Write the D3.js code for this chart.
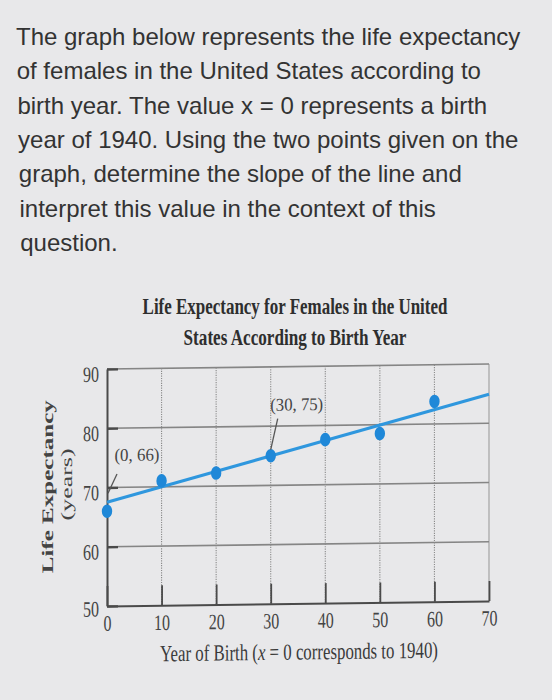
<!DOCTYPE html>
<html><head><meta charset="utf-8">
<script src="https://cdn.jsdelivr.net/npm/d3@7"></script>
<style>html,body{margin:0;padding:0;background:#e8e8ea;}svg{display:block}</style>
</head><body>
<script>
// ---- data ----
const questionLines = [
  "The graph below represents the life expectancy",
  "of females in the United States according to",
  "birth year. The value x = 0 represents a birth",
  "year of 1940. Using the two points given on the",
  "graph, determine the slope of the line and",
  "interpret this value in the context of this",
  "question."
];
const titleLines = ["Life Expectancy for Females in the United", "States According to Birth Year"];
const yearX = [0, 10, 20, 30, 40, 50, 60];
const lifeY = [66, 71, 72.2, 75, 77.6, 78.5, 83.8];
const fitX = [0, 70];
const fitY = [67.5, 84.9];
const xTicks = [0, 10, 20, 30, 40, 50, 60, 70];
const yTicks = [50, 60, 70, 80, 90];
const labelPoints = ["(0, 66)", "(30, 75)"];
const labelX = [0, 30];
const labelY = [66, 75];
const yTitle = "Life Expectancy";
const yUnit = "(years)";

// ---- layout ----
const W = 552, H = 700;
const svg = d3.select("body").append("svg").attr("width", W).attr("height", H);
svg.append("rect").attr("width", W).attr("height", H).attr("fill", "#e8e8ea");

const x = d3.scaleLinear().domain([0, 70]).range([107, 489]);
const y = d3.scaleLinear().domain([50, 90]).range([606, 369]);
const fontSerif = "Liberation Serif, Times New Roman, serif";

// squeeze a text horizontally to a target width around (cx, by)
function fitTo(sel, cx, by, w) {
  sel.attr("transform", `translate(${cx},${by})`);
  const n = sel.node().getComputedTextLength();
  sel.attr("transform", `translate(${cx},${by}) scale(${w / n},1)`);
}

// question text
svg.append("g").selectAll("text").data(questionLines).join("text")
  .attr("x", (d, i) => 16 + i * 0.7)
  .attr("y", (d, i) => 45 + i * 34.3)
  .attr("font-family", "Liberation Sans, Arial, sans-serif")
  .attr("font-size", 24)
  .attr("fill", "#333")
  .text(d => d);

// chart title
const titleW = [305, 223];
svg.append("g").selectAll("text").data(titleLines).join("text")
  .attr("text-anchor", "middle")
  .attr("font-family", fontSerif)
  .attr("font-weight", "bold")
  .attr("font-size", 23.5)
  .attr("fill", "#2e2e2e")
  .text(d => d)
  .each(function (d, i) { fitTo(d3.select(this), 295, 314 + i * 31, titleW[i]); });

// skewed chart group (photo perspective)
const g = svg.append("g")
  .attr("transform", `translate(${x(0)},0) skewY(-0.75) translate(${-x(0)},0)`);

// horizontal gridlines
g.append("g").selectAll("line").data(yTicks.filter(v => v > 50)).join("line")
  .attr("x1", x(0)).attr("x2", x(70))
  .attr("y1", d => y(d)).attr("y2", d => y(d))
  .attr("stroke", "#858585").attr("stroke-width", 1.7);

// vertical dotted gridlines
g.append("g").selectAll("line").data(xTicks.filter(v => v > 0)).join("line")
  .attr("x1", d => x(d)).attr("x2", d => x(d))
  .attr("y1", y(90)).attr("y2", y(50))
  .attr("stroke", "#8a8a8a").attr("stroke-width", 1.1)
  .attr("stroke-dasharray", d => d === 70 ? null : "1.2,1.2")
  .attr("stroke-opacity", d => d === 70 ? 0.8 : 1);

// y axis
const yAxis = g.append("g").attr("transform", `translate(${x(0)},0)`)
  .call(d3.axisLeft(y).tickValues(yTicks).tickSize(-11).tickSizeOuter(0).tickPadding(8));
yAxis.select(".domain").attr("stroke", "#4a4a4a").attr("stroke-width", 2);
yAxis.selectAll(".tick line").attr("stroke", "#4a4a4a").attr("stroke-width", 2.4);
yAxis.selectAll(".tick text")
  .attr("font-family", fontSerif).attr("font-size", 22).attr("fill", "#444")
  .attr("dy", d => d === 50 ? "0.45em" : "0.55em")
  .attr("textLength", d => String(d).length * 8)
  .attr("lengthAdjust", "spacingAndGlyphs");

// x axis
const xAxis = g.append("g").attr("transform", `translate(0,${y(50)})`)
  .call(d3.axisBottom(x).tickValues(xTicks).tickSize(-20).tickSizeOuter(0).tickPadding(9));
xAxis.select(".domain").attr("stroke", "#4a4a4a").attr("stroke-width", 2);
xAxis.selectAll(".tick line").attr("stroke", "#4a4a4a").attr("stroke-width", 1.8);
xAxis.selectAll(".tick text")
  .attr("font-family", fontSerif).attr("font-size", 22).attr("fill", "#444")
  .attr("textLength", d => String(d).length * 8)
  .attr("lengthAdjust", "spacingAndGlyphs");

// fit line
const line = d3.line().x(d => x(d[0])).y(d => y(d[1]));
g.append("path").datum(d3.zip(fitX, fitY))
  .attr("d", line).attr("fill", "none")
  .attr("stroke", "#2f97de").attr("stroke-width", 3.2);

// points
g.append("g").selectAll("ellipse").data(d3.zip(yearX, lifeY)).join("ellipse")
  .attr("cx", d => x(d[0])).attr("cy", d => y(d[1]))
  .attr("rx", 5.2).attr("ry", 6.8)
  .attr("fill", "#1f88d8");

// annotations
const ann = g.append("g");
const annOffsets = [{tx: 30, ty: -50, l1: [10, -37], l2: [1, -18]}, {tx: 26, ty: -45, l1: [7, -37], l2: [0, -6]}];
labelPoints.forEach((lab, i) => {
  const px = x(labelX[i]), py = y(labelY[i]), o = annOffsets[i];
  ann.append("text")
    .attr("x", px + o.tx).attr("y", py + o.ty)
    .attr("text-anchor", "middle")
    .attr("font-family", fontSerif).attr("font-size", 18).attr("fill", "#444")
    .attr("textLength", i === 0 ? 45 : 53).attr("lengthAdjust", "spacingAndGlyphs")
    .text(lab);
  ann.append("line")
    .attr("x1", px + o.l1[0]).attr("y1", py + o.l1[1])
    .attr("x2", px + o.l2[0]).attr("y2", py + o.l2[1])
    .attr("stroke", "#555").attr("stroke-width", 1.3);
});

// x axis title
const xt = g.append("text")
  .attr("text-anchor", "middle")
  .attr("font-family", fontSerif).attr("font-size", 23).attr("fill", "#3a3a3a");
xt.append("tspan").text("Year of Birth (");
xt.append("tspan").attr("font-style", "italic").text("x");
xt.append("tspan").text(" = 0 corresponds to 1940)");
fitTo(xt, 299, 662, 278);

// y axis title
g.append("text")
  .attr("transform", `translate(53,486) rotate(-90)`)
  .attr("text-anchor", "middle")
  .attr("font-family", fontSerif).attr("font-size", 16).attr("font-weight", "bold").attr("fill", "#444")
  .attr("textLength", 173).attr("lengthAdjust", "spacingAndGlyphs")
  .text(yTitle);
g.append("text")
  .attr("transform", `translate(72,484) rotate(-90)`)
  .attr("text-anchor", "middle")
  .attr("font-family", fontSerif).attr("font-size", 16).attr("fill", "#444")
  .attr("textLength", 72).attr("lengthAdjust", "spacingAndGlyphs")
  .text(yUnit);
</script>
</body></html>
